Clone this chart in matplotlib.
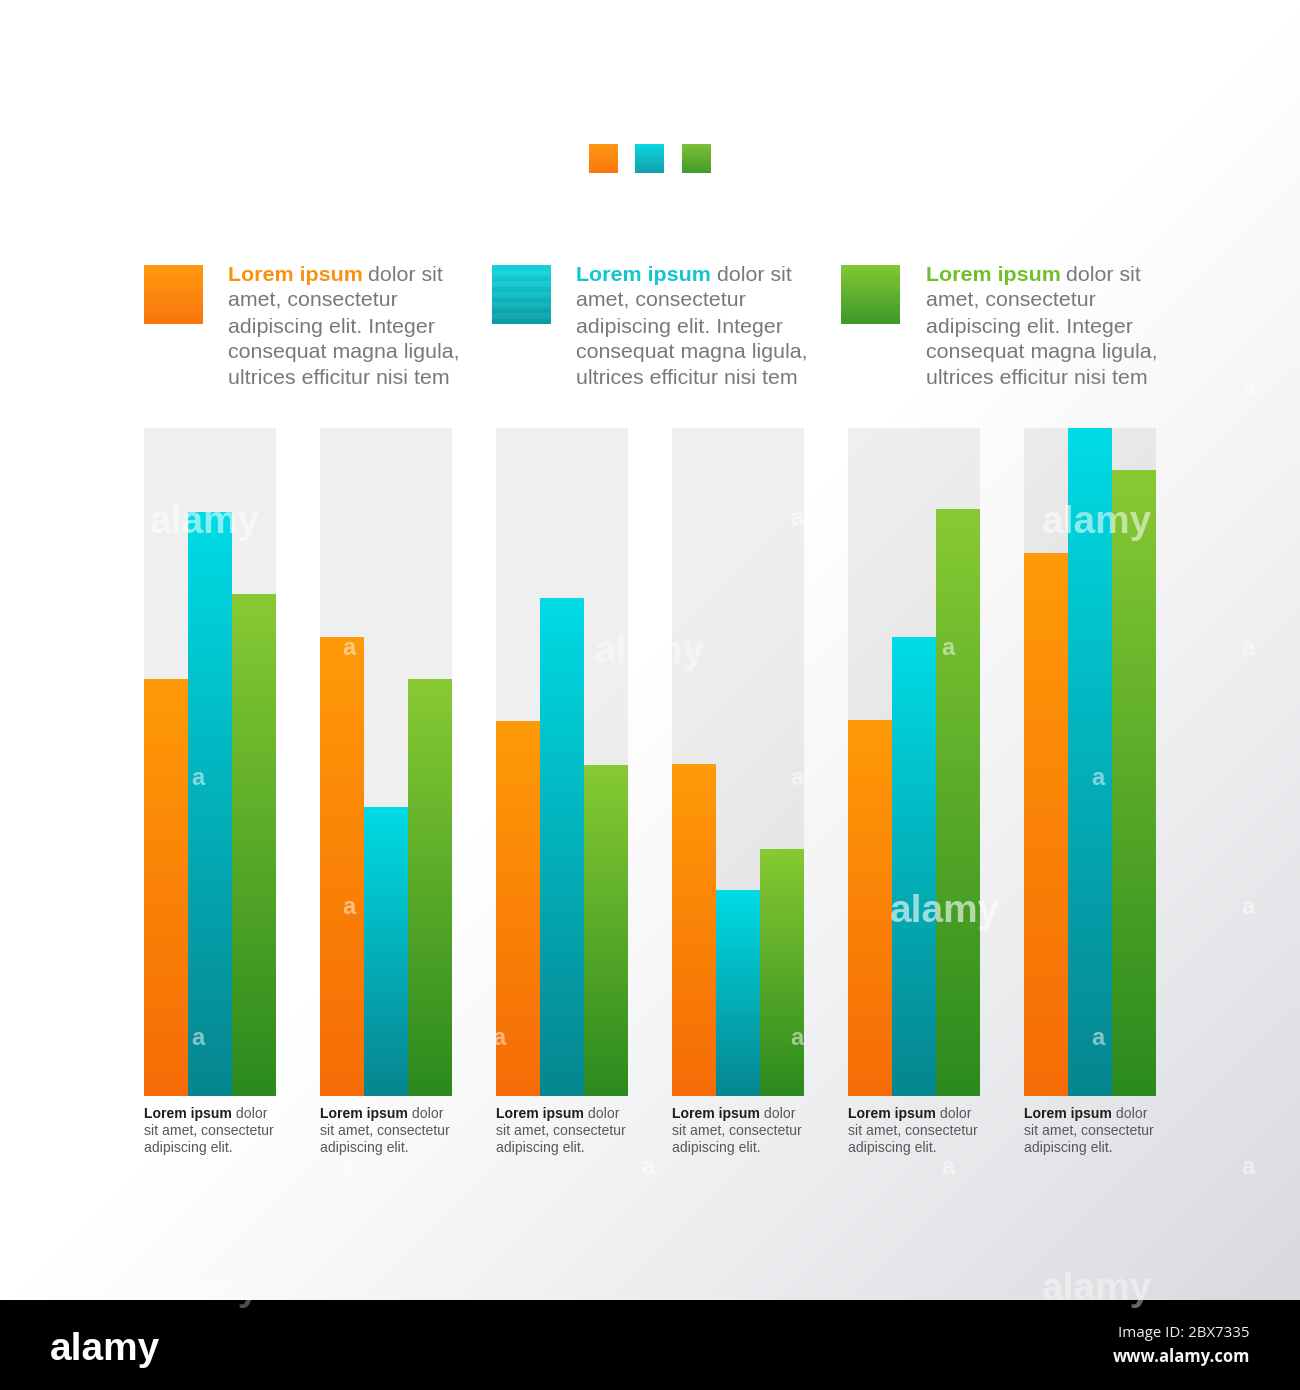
import numpy as np
import matplotlib
matplotlib.use("Agg")
import matplotlib.pyplot as plt
from matplotlib.colors import LinearSegmentedColormap, to_rgb
from matplotlib.patches import Rectangle

plt.rcParams['font.family'] = ['Liberation Sans', 'DejaVu Sans']

groups = ["Lorem ipsum"] * 6
series_a = [62.4, 68.7, 56.1, 49.7, 56.3, 81.3]
series_b = [87.4, 43.3, 74.6, 30.8, 68.7, 100.0]
series_c = [75.1, 62.4, 49.6, 37.0, 87.9, 93.7]
panel_max = 100.0
legend_bold = "Lorem ipsum"
legend_rest = " dolor sit"
legend_lines = ["amet, consectetur", "adipiscing elit. Integer",
                "consequat magna ligula,", "ultrices efficitur nisi tem"]
caption_bold = "Lorem ipsum"
caption_rest = " dolor"
caption_lines = ["sit amet, consectetur", "adipiscing elit."]

ORANGE = ("#ff9a08", "#f56c06")
CYAN = ("#00dce6", "#06858f")
GREEN = ("#88ca33", "#2b8a1e")
KEY_ORANGE = ("#ff9a10", "#f8760e")
KEY_CYAN = ("#16d2db", "#0a9aa2")
KEY_GREEN = ("#84c734", "#3c9a2a")
TOP_ORANGE = ("#ff9912", "#f9770f")
TOP_CYAN = ("#0bd6e0", "#12a0ab")
TOP_GREEN = ("#7cc137", "#459a2c")
HEAD = ["#f7930e", "#11c6d2", "#72bf2c"]

W, H = 1300, 1390
fig = plt.figure(figsize=(W / 100, H / 100), dpi=100)

# ---- background
bg = fig.add_axes([0, 0, 1, 1], zorder=0)
bg.set_xlim(0, W); bg.set_ylim(H, 0); bg.axis("off")
xx, yy = np.meshgrid(np.linspace(0, 1, 325), np.linspace(0, 1, 325))
t = np.clip(xx + yy - 1.0, 0, 1) ** 1.1
bgcm = LinearSegmentedColormap.from_list("b", ["#ffffff", "#d8dade"])
bg.imshow(t, extent=(0, W, 1300, 0), cmap=bgcm, vmin=0, vmax=1, aspect="auto",
          interpolation="bilinear")
bg.set_xlim(0, W); bg.set_ylim(H, 0)
bg.add_patch(Rectangle((0, 1300), W, 90, color="black", lw=0))


def vgrad(c, bands=0):
    a, b = to_rgb(c[0]), to_rgb(c[1])
    s = np.linspace(0, 1, 256)[:, None, None]
    g = (1 - s) * np.array(a)[None, None, :] + s * np.array(b)[None, None, :]
    if bands:
        stripe = ((np.arange(256) * bands // 256) % 2)[:, None, None]
        g = np.clip(g + 0.035 * stripe, 0, 1)
    return g


# ---- chart
ax = fig.add_axes([144 / W, 1 - 1096 / H, 1012 / W, 668 / H], zorder=1)
ax.set_xlim(0, 5.75); ax.set_ylim(0, panel_max)
ax.axis("off"); ax.patch.set_alpha(0)
x = np.arange(len(groups))
bw = 0.25
ax.bar(x, panel_max, width=0.75, align="edge", color="#000000", alpha=0.062, lw=0, zorder=1)
for k, (vals, cols) in enumerate(zip([series_a, series_b, series_c], [ORANGE, CYAN, GREEN])):
    bars = ax.bar(x + k * bw, vals, width=bw, align="edge", color=cols[0], lw=0, zorder=2)
    for b in bars:
        bx, by, bw_, bh = b.get_x(), b.get_y(), b.get_width(), b.get_height()
        im = ax.imshow(vgrad(cols), extent=(bx, bx + bw_, by, by + bh), origin="upper",
                       aspect="auto", zorder=3, interpolation="bilinear")
        im.set_clip_path(b)
ax.set_xlim(0, 5.75); ax.set_ylim(0, panel_max)

# ---- overlay: keys, texts, watermark
ov = fig.add_axes([0, 0, 1, 1], zorder=2)
ov.set_xlim(0, W); ov.set_ylim(H, 0); ov.axis("off"); ov.patch.set_alpha(0)


def square(x0, y0, s, cols, bands=0):
    ov.imshow(vgrad(cols, bands), extent=(x0, x0 + s, y0 + s, y0), aspect="auto",
              interpolation="bilinear", zorder=2)


for x0, cols in zip([589, 635, 682], [TOP_ORANGE, TOP_CYAN, TOP_GREEN]):
    square(x0, 144.5, 29, cols)
for x0, cols, nb in zip([144, 492, 841], [KEY_ORANGE, KEY_CYAN, KEY_GREEN], [0, 11, 0]):
    square(x0, 265.5, 59, cols, nb)
ov.set_xlim(0, W); ov.set_ylim(H, 0)

r = fig.canvas.get_renderer()


def mixed(x0, y0, bold, rest, size, cb, cr):
    t1 = ov.text(x0, y0, bold, fontsize=size, fontweight="bold", color=cb, va="baseline", zorder=5)
    w = t1.get_window_extent(r).width
    return ov.text(x0 + w, y0, rest, fontsize=size, color=cr, va="baseline", zorder=5)


for x0, c in zip([227.5, 576.5, 925.5], HEAD):
    mixed(x0, 281, legend_bold, legend_rest.replace(" ", "\u00a0"), 15.4, c, "#77797c")
    for i, ln in enumerate(legend_lines):
        ov.text(x0, 281 + 25.8 * (i + 1), ln, fontsize=15.4, color="#77797c", va="baseline", zorder=5)

for gx in 144 + x * 176:
    mixed(gx, 1118, caption_bold, caption_rest.replace(" ", "\u00a0"), 10.1, "#1e1e1e", "#57595c")
    for i, ln in enumerate(caption_lines):
        ov.text(gx, 1118 + 17 * (i + 1), ln, fontsize=10.1, color="#57595c", va="baseline", zorder=5)

# stock-photo footer
ov.text(50, 1360, "alamy", fontsize=28, fontweight="bold", color="white", va="baseline", zorder=6)
ov.text(1250, 1337, "Image ID: 2BX7335", fontsize=10.8, family=["Open Sans", "DejaVu Sans"], color="#f0f0f0",
        ha="right", va="baseline", zorder=6)
ov.text(1250, 1362, "www.alamy.com", fontsize=12, fontweight="bold", family=["Open Sans", "DejaVu Sans"],
        color="#f5f5f5", ha="right", va="baseline", zorder=6)

# faint watermarks
clip = Rectangle((0, 0), W, 1300, transform=ov.transData)
wm = [(205, 533, .55), (650, 663, .40), (945, 922, .60), (1097, 533, .55),
      (205, 1300, .30), (1097, 1300, .40)]
for wx, wy, a in wm:
    tw = ov.text(wx, wy, "alamy", fontsize=28, fontweight="bold",
                 color="white", alpha=a, ha="center", va="baseline", zorder=4)
    tw.set_clip_path(clip)
for ax_, ay_ in [(349, 648), (349, 907), (198, 778), (198, 1038), (948, 648), (1098, 778), (1098, 1038), (499, 1038),
                 (650, 907), (797, 518), (797, 778), (797, 1038), (1248, 648), (1248, 907), (1248, 388), (1248, 1167),
                 (948, 1167), (648, 1167), (349, 1167)]:
    ov.text(ax_, ay_ + 7, "a", fontsize=17, fontweight="bold",
            color="white", alpha=0.5, ha="center", va="baseline", zorder=4)

fig.savefig("out.png", dpi=100)
